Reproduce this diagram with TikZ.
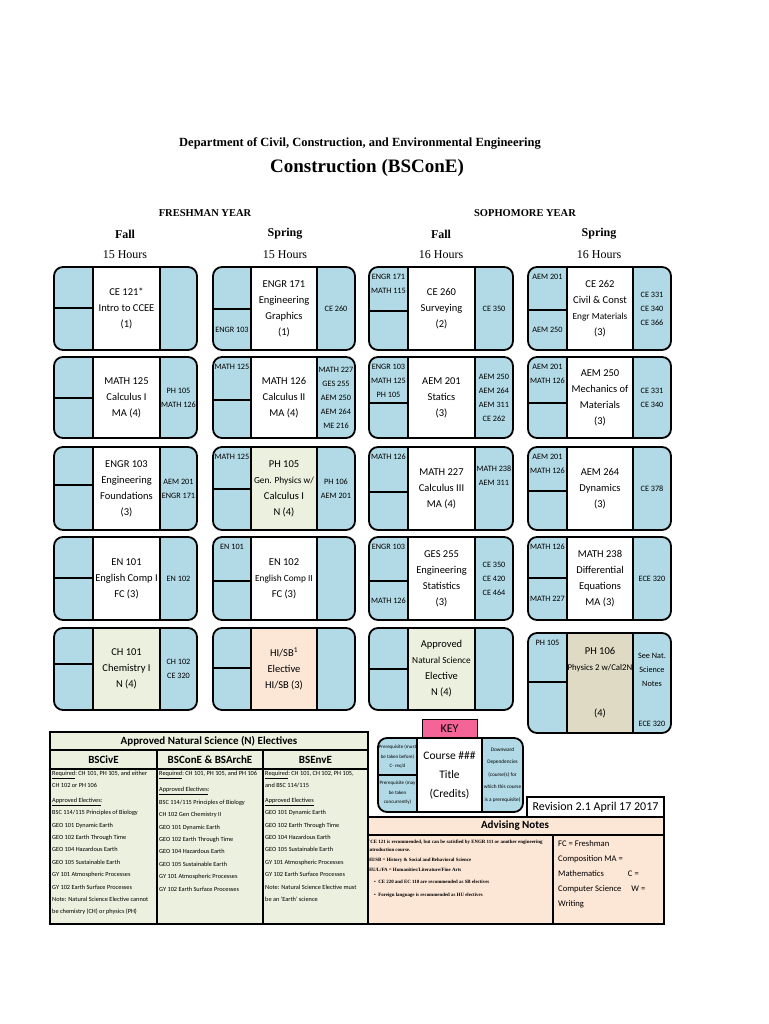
\documentclass[tikz,border=0pt]{standalone}
\usepackage{fontspec}
\setmainfont{Carlito}
\newfontfamily\tms{Liberation Serif}
\definecolor{cblue}{RGB}{178,218,230}
\definecolor{ccream}{RGB}{236,240,222}
\definecolor{cpeach}{RGB}{252,230,214}
\definecolor{ctan}{RGB}{222,218,196}
\definecolor{cpink}{RGB}{245,100,150}
\tikzset{
  ctext/.style={align=center,font=\fontsize{10.5}{16}\selectfont,inner sep=0pt},
  stext/.style={align=center,font=\fontsize{8.2}{14}\selectfont,inner sep=0pt},
  ktext/.style={align=center,font=\fontsize{5}{9.5}\selectfont,inner sep=0pt},
  ntext/.style={align=left,anchor=north west,font=\fontsize{6.3}{12.4}\selectfont,inner sep=0pt},
  atext/.style={align=left,anchor=north west,font=\tms\bfseries\fontsize{4.9}{8}\selectfont,inner sep=0pt},
  outer/.style={draw,line width=1.8pt,rounded corners=9pt},
}
\newcommand\nar[1]{{\fontsize{9.3}{16}\selectfont #1}}
\newcommand\setcol[1]{\ifcase#1\or\def\xa{54}\def\xb{93}\def\xc{160}\def\xd{197}\or
 \def\xa{213}\def\xb{251}\def\xc{317}\def\xd{355}\or
 \def\xa{369}\def\xb{408}\def\xc{475}\def\xd{513}\or
 \def\xa{528}\def\xb{567}\def\xc{633}\def\xd{671}\fi}
\def\cf{white}
% #1 name #2 col #3 y1 #4 y2 #5 divy #6 lt #7 lb #8 center #9 right
\newcommand\crs[9]{%
 \setcol{#2}%
 \fill[cblue,rounded corners=9pt] (\xa,#3) rectangle (\xd,#4);
 \fill[\cf] (\xb,#3) rectangle (\xc,#4);
 \draw[line width=1.2pt] (\xb,#3)--(\xb,#4) (\xc,#3)--(\xc,#4) (\xa,#5)--(\xb,#5);
 \draw[outer] (\xa,#3) rectangle (\xd,#4);
 \node[stext,anchor=north] (#1lt) at ({(\xa+\xb)/2},{#3+7}) {#6};
 \node[stext] (#1lb) at ({(\xa+\xb)/2},{(#5+#4)/2}) {#7};
 \node[ctext] (#1c) at ({(\xb+\xc)/2},{(#3+#4)/2}) {#8};
 \node[stext] (#1r) at ({(\xc+\xd)/2},{(#3+#4)/2}) {#9};
 \def\cf{white}}
\begin{document}
\begin{tikzpicture}[x=1pt,y=-1pt]
\useasboundingbox (0,0) rectangle (768,1024);
\fill[white] (0,0) rectangle (768,1024);
% titles
\node[font=\tms\bfseries\fontsize{12.5}{14}\selectfont] (t1) at (360,143) {Department of Civil, Construction, and Environmental Engineering};
\node[font=\tms\bfseries\fontsize{19}{21}\selectfont] (t2) at (367,168) {Construction (BSConE)};
\node[font=\tms\bfseries\fontsize{10.5}{10}\selectfont] (fy) at (205,213) {FRESHMAN YEAR};
\node[font=\tms\bfseries\fontsize{10.5}{10}\selectfont] (sy) at (525,213) {SOPHOMORE YEAR};
\foreach \n/\x/\s/\h in {a/125/Fall/15,b/285/Spring/15,c/441/Fall/16,d/599/Spring/16}{
 \node[font=\tms\bfseries\fontsize{12}{12}\selectfont] (s\n) at (\x,234) {\s};
 \node[font=\tms\fontsize{12}{12}\selectfont] (h\n) at (\x,255) {\h\ Hours};
}
% column 1
\crs{aa}{1}{267}{350}{308}{}{}{CE 121*\\Intro to CCEE\\(1)}{}
\crs{ab}{1}{357}{438}{398}{}{}{MATH 125\\Calculus I\\MA (4)}{PH 105\\MATH 126}
\crs{ac}{1}{447}{530}{485}{}{}{ENGR 103\\Engineering\\Foundations\\(3)}{AEM 201\\ENGR 171}
\crs{ad}{1}{537}{620}{578}{}{}{EN 101\\English Comp I\\FC (3)}{EN 102}
\def\cf{ccream}\crs{ae}{1}{628}{710}{664}{}{}{CH 101\\Chemistry I\\N (4)}{CH 102\\CE 320}
% column 2
\crs{ba}{2}{267}{350}{309}{}{ENGR 103}{ENGR 171\\Engineering\\Graphics\\(1)}{CE 260}
\crs{bb}{2}{357}{438}{400}{MATH 125}{}{MATH 126\\Calculus II\\MA (4)}{MATH 227\\GES 255\\AEM 250\\AEM 264\\ME 216}
\def\cf{ccream}\crs{bc}{2}{447}{530}{489}{MATH 125}{}{PH 105\\\nar{Gen. Physics w/}\\Calculus I\\N (4)}{PH 106\\AEM 201}
\crs{bd}{2}{537}{620}{581}{EN 101}{}{EN 102\\\nar{English Comp II}\\FC (3)}{}
\def\cf{cpeach}\crs{be}{2}{628}{710}{668}{}{}{HI/SB\textsuperscript{1}\\Elective\\HI/SB (3)}{}
% column 3
\crs{ca}{3}{267}{350}{311}{ENGR 171\\MATH 115}{}{CE 260\\Surveying\\(2)}{CE 350}
\crs{cb}{3}{357}{438}{403}{ENGR 103\\MATH 125\\PH 105}{}{AEM 201\\Statics\\(3)}{AEM 250\\AEM 264\\AEM 311\\CE 262}
\crs{cc}{3}{447}{530}{492}{MATH 126}{}{MATH 227\\Calculus III\\MA (4)}{MATH 238\\AEM 311\\[12pt]}
\crs{cd}{3}{537}{620}{581}{ENGR 103}{MATH 126}{GES 255\\Engineering\\Statistics\\(3)}{CE 350\\CE 420\\CE 464}
\def\cf{ccream}\crs{ce}{3}{628}{710}{669}{}{}{Approved\\\nar{Natural Science}\\Elective\\N (4)}{}
% column 4
\crs{da}{4}{267}{350}{310}{AEM 201}{AEM 250}{CE 262\\Civil \& Const\\\nar{Engr Materials}\\(3)}{CE 331\\CE 340\\CE 366}
\crs{db}{4}{357}{438}{403}{AEM 201\\MATH 126}{}{AEM 250\\Mechanics of\\Materials\\(3)}{CE 331\\CE 340}
\crs{dc}{4}{447}{530}{491}{AEM 201\\MATH 126}{}{AEM 264\\Dynamics\\(3)}{CE 378}
\crs{dd}{4}{537}{620}{578}{MATH 126}{MATH 227}{MATH 238\\Differential\\Equations\\MA (3)}{ECE 320}
\def\cf{ctan}\crs{de}{4}{633}{733}{682}{PH 105}{}{PH 106\\{\fontsize{8.8}{16}\selectfont Physics 2 w/Cal2N}\\[14pt] \\(4)}{}
\node[stext] (dex) at (652,670) {See Nat.\\Science\\Notes};
\node[stext] (dey) at (652,724) {ECE 320};
% key
\node[draw,line width=1pt,fill=cpink,minimum width=55pt,minimum height=19pt,inner sep=0pt,font=\fontsize{12}{11}\selectfont] (key) at (449.5,728.5) {KEY};
\fill[cblue,rounded corners=8pt] (378,738) rectangle (523,812);
\fill[white] (417,738) rectangle (482,812);
\draw[line width=1.2pt] (417,738)--(417,812) (482,738)--(482,812) (378,775)--(417,775);
\draw[outer] (378,738) rectangle (523,812);
\node[ktext] (k1) at (397.5,757) {Prerequisite (must\\be taken before)\\C- req'd};
\node[ktext] (k2) at (397.5,793) {Prerequisite (may\\be taken\\concurrently)};
\node[ctext,font=\fontsize{11.5}{19}\selectfont] (k3) at (449.5,775) {Course \#\#\#\\Title\\(Credits)};
\node[ktext,font=\fontsize{5.3}{12.5}\selectfont] (k4) at (502.5,775) {Downward\\Dependencies\\(course(s) for\\which this course\\is a prerequisite)};
% revision
\node[draw,line width=1.2pt,minimum width=137pt,minimum height=20pt,inner sep=0pt,font=\fontsize{12}{11}\selectfont] (rev) at (595.5,807) {Revision 2.1 April 17 2017};
% advising notes
\fill[cpeach] (367,817) rectangle (664,924);
\draw[line width=1.2pt] (367,817) rectangle (664,924) (367,835)--(664,835) (553,835)--(553,924);
\node[font=\bfseries\fontsize{11}{10}\selectfont] (adv) at (515,826) {Advising Notes};
\node[atext] (an) at (368,839) {\textsuperscript{1}CE 121 is recommended, but can be satisfied by ENGR 111 or another engineering\\introduction course.\\[2pt]HI/SB = History \& Social and Behavioral Science\\[2pt]HU/L/FA = Humanities/Literature/Fine Arts\\[4pt]
\hspace{6pt}\textbullet\ \ CE 220 and EC 110 are recommended as SB electives\\[5pt]
\hspace{6pt}\textbullet\ \ Foreign language is recommended as HU electives};
\node[ntext,font=\fontsize{8.6}{15}\selectfont] (an2) at (558,840) {FC = Freshman\\Composition MA =\\Mathematics\hspace{24pt}C =\\Computer Science\hspace{8pt} W =\\Writing};
% natural science table
\fill[ccream] (50,732) rectangle (368,924);
\draw[line width=1.5pt] (50,732) rectangle (368,924) (50,750)--(368,750);
\draw[line width=1.2pt] (50,769)--(368,769) (157,750)--(157,924) (263,750)--(263,924);
\node[font=\bfseries\fontsize{11}{10}\selectfont] (nt) at (209,741) {Approved Natural Science (N) Electives};
\node[font=\bfseries\fontsize{11}{10}\selectfont] (n1) at (103.5,760) {BSCivE};
\node[font=\bfseries\fontsize{11}{10}\selectfont] (n2) at (210,760) {BSConE \& BSArchE};
\node[font=\bfseries\fontsize{11}{10}\selectfont] (n3) at (315.5,760) {BSEnvE};
\node[ntext] (c1) at (52,771) {\underline{Required}:\ CH 101, PH 105, and either\\CH 102 or PH 106\\[2pt]\underline{Approved Electives}:\\BSC 114/115 Principles of Biology\\GEO 101 Dynamic Earth\\GEO 102 Earth Through Time\\GEO 104 Hazardous Earth\\GEO 105 Sustainable Earth\\GY 101 Atmospheric Processes\\GY 102 Earth Surface Processes\\Note: Natural Science Elective cannot\\be chemistry (CH) or physics (PH)};
\node[ntext] (c2) at (159,771) {\underline{Required}:\ CH 101, PH 105, and PH 106\\[4pt]\underline{Approved Electives}:\\BSC 114/115 Principles of Biology\\CH 102 Gen Chemistry II\\GEO 101 Dynamic Earth\\GEO 102 Earth Through Time\\GEO 104 Hazardous Earth\\GEO 105 Sustainable Earth\\GY 101 Atmospheric Processes\\GY 102 Earth Surface Processes};
\node[ntext] (c3) at (265,771) {\underline{Required}:\ CH 101, CH 102, PH 105,\\and BSC 114/115\\[2pt]\underline{Approved Electives}\\GEO 101 Dynamic Earth\\GEO 102 Earth Through Time\\GEO 104 Hazardous Earth\\GEO 105 Sustainable Earth\\GY 101 Atmospheric Processes\\GY 102 Earth Surface Processes\\Note: Natural Science Elective must\\be an `Earth' science};
\end{tikzpicture}
\end{document}
